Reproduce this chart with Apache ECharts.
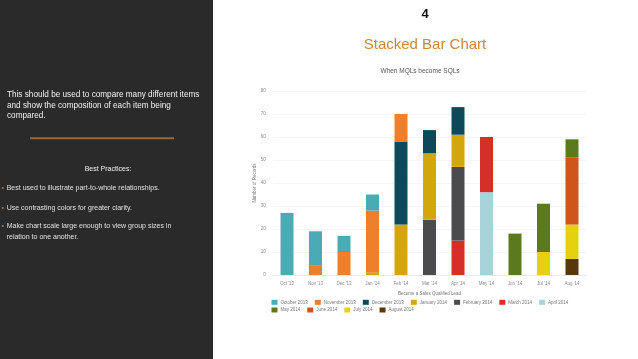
<!DOCTYPE html>
<html><head><meta charset="utf-8">
<script src="https://cdn.jsdelivr.net/npm/echarts@6/dist/echarts.min.js"></script>
<style>html,body{margin:0;padding:0;background:#fff}#c{width:638px;height:359px}</style>
</head><body><div id="c"></div>
<script>
const categories = ["Oct '13","Nov '13","Dec '13","Jan '14","Feb '14","Mar '14","Apr '14","May '14","Jun '14","Jul '14","Aug '14"];
const yTicks = [0,10,20,30,40,50,60,70,80];
// values per series (month the MQL was created), per category (month it became SQL)
const october2013  = [27,15,7,7,null,null,null,null,null,null,null];
const november2013 = [null,4,10,27,12,null,null,null,null,null,null];
const december2013 = [null,null,null,null,36,10,12,null,null,null,null];
const january2014  = [null,null,null,1,22,29,14,null,null,null,null];
const february2014 = [null,null,null,null,null,24,32,null,null,null,null];
const march2014    = [null,null,null,null,null,null,15,24,null,null,null];
const april2014    = [null,null,null,null,null,null,null,36,null,null,null];
const may2014      = [null,null,null,null,null,null,null,null,18,21,8];
const june2014     = [null,null,null,null,null,null,null,null,null,null,29];
const july2014     = [null,null,null,null,null,null,null,null,null,10,15];
const august2014   = [null,null,null,null,null,null,null,null,null,null,7];
const seriesNames = ["October 2013","November 2013","December 2013","January 2014","February 2014","March 2014","April 2014","May 2014","June 2014","July 2014","August 2014"];
const seriesData = [october2013,november2013,december2013,january2014,february2014,march2014,april2014,may2014,june2014,july2014,august2014];
const colors = ["#4BABB5","#F07F2C","#0C4A5A","#D3A70C","#4B4B4D","#D52F27","#A7D3DB","#5A7A1D","#D0551B","#E5D10D","#5A3709"];

const chart = echarts.init(document.getElementById('c'), null, {renderer:'canvas'});
// stack newest at bottom: series order reversed
const series = [];
for (let i = seriesNames.length - 1; i >= 0; i--) {
  series.push({
    name: seriesNames[i], type: 'bar', stack: 'total', barWidth: 13,
    itemStyle: {color: colors[i]}, data: seriesData[i]
  });
}
const legendStyle = {itemWidth:6,itemHeight:5,itemGap:7,icon:'rect',textStyle:{fontSize:4.5,color:'#777',fontFamily:'Liberation Sans',padding:[0,0,0,-2]},padding:0};
const F = 'Liberation Sans';
const T = (x,y,s,size,fill,extra) => ({type:'text',x:x,y:y,style:Object.assign({text:s,fontSize:size,fill:fill,verticalAlign:'middle',fontFamily:F},extra||{})});
chart.setOption({
  animation:false,
  color: colors,
  grid:{left:272.75,right:51.75,top:91,bottom:84},
  legend:[
    Object.assign({left:271.5,top:299.8,data:seriesNames.slice(0,7)},legendStyle),
    Object.assign({left:271.5,top:307.5,data:seriesNames.slice(7)},legendStyle)
  ],
  xAxis:{type:'category',data:categories,
    name:'Become a Sales Qualified Lead',nameLocation:'middle',nameGap:13,
    nameTextStyle:{fontSize:4.5,color:'#777',fontFamily:F},
    axisLine:{lineStyle:{color:'#e8e8e8'}},axisTick:{show:false},
    axisLabel:{fontSize:4.5,color:'#888',margin:6,fontFamily:F}},
  yAxis:{type:'value',min:yTicks[0],max:yTicks[yTicks.length-1],interval:10,
    name:'Number of Records',nameLocation:'middle',nameGap:15,
    nameTextStyle:{fontSize:4.5,color:'#777',fontFamily:F},
    axisLine:{show:false},axisTick:{show:false},
    splitLine:{lineStyle:{color:'#efefef',width:0.6}},
    axisLabel:{fontSize:4.5,color:'#888',margin:7,fontFamily:F}},
  series: series,
  graphic:[
    {type:'rect',left:0,top:0,shape:{width:213,height:359},style:{fill:'#2A2A2A'},z:-10},
    T(425,14,'4',13,'#111',{fontWeight:'bold',align:'center'}),
    T(425,44.5,'Stacked Bar Chart',15,'#C98838',{align:'center'}),
    T(420,71,'When MQLs become SQLs',6.5,'#555',{align:'center'}),
    T(7,95,'This should be used to compare many different items',8.2,'#F2F2F2'),
    T(7,105.3,'and show the composition of each item being',8.2,'#F2F2F2'),
    T(7,115.6,'compared.',8.2,'#F2F2F2'),
    {type:'line',shape:{x1:30,y1:138.3,x2:174,y2:138.3},style:{stroke:'#A8652E',lineWidth:2}},
    T(108,169.3,'Best Practices:',7,'#F2F2F2',{align:'center'}),
    T(1.5,188.3,'•',7,'#B5703A'),
    T(6.7,188.3,'Best used to illustrate part-to-whole relationships.',7,'#E0E0E0'),
    T(1.5,207.7,'•',7,'#B5703A'),
    T(6.7,207.7,'Use contrasting colors for greater clarity.',7,'#E0E0E0'),
    T(1.5,225.7,'•',7,'#B5703A'),
    T(6.7,225.7,'Make chart scale large enough to view group sizes in',7,'#E0E0E0'),
    T(6.7,236.7,'relation to one another.',7,'#E0E0E0')
  ]
});
</script></body></html>
